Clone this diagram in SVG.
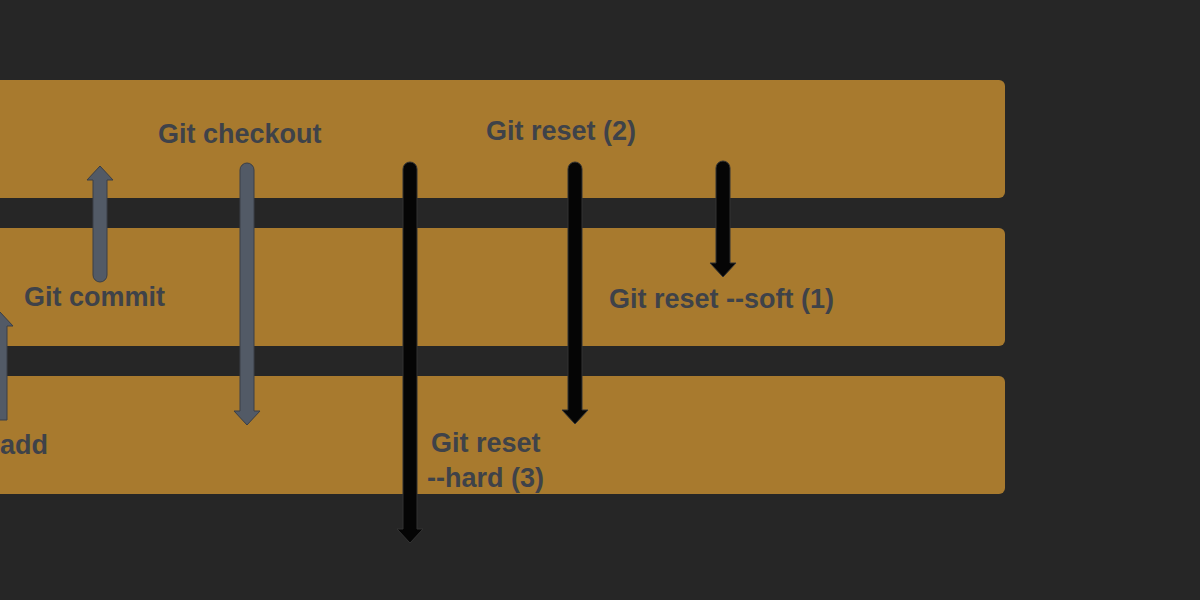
<svg xmlns="http://www.w3.org/2000/svg" width="1200" height="600" viewBox="0 0 1200 600">
<style>
.band{fill:#a87a2e}
.t{font-family:"Liberation Sans",Arial,sans-serif;font-weight:bold;font-size:27px;fill:#3e4249}
.g{fill:#525a66;stroke:#3a3f47;stroke-width:1}
.b{fill:#050505;stroke:#333;stroke-width:1}
</style>
<rect width="1200" height="600" fill="#262626"/>
<g id="repo"><rect class="band" x="-10" y="80" width="1015" height="118" rx="6"/></g>
<g id="staging"><rect class="band" x="-10" y="228" width="1015" height="118" rx="6"/></g>
<g id="working"><rect class="band" x="-10" y="376" width="1015" height="118" rx="6"/></g>
<g id="connectors">
<!-- up arrows: shaft from bottom (rounded) to head at top -->
<path class="g" d="M93,275 V180 H87 L100,166 L113,180 H107 V275 A7,7 0 0 1 93,275 Z"/>
<path class="g" d="M-7,420 V326 H-13 L0,312 L13,326 H7 V420 Z"/>
<path class="g" d="M240,170 V411 H234 L247,425 L260,411 H254 V170 A7,7 0 0 0 240,170 Z"/>
<path class="b" d="M403,169 V529 H397 L410,543 L423,529 H417 V169 A7,7 0 0 0 403,169 Z"/>
<path class="b" d="M568,169 V410 H562 L575,424 L588,410 H582 V169 A7,7 0 0 0 568,169 Z"/>
<path class="b" d="M716,168 V263 H710 L723,277 L736,263 H730 V168 A7,7 0 0 0 716,168 Z"/>
</g>
<g id="labels">
<text class="t" x="158" y="143">Git checkout</text>
<text class="t" x="486" y="140">Git reset (2)</text>
<text class="t" x="24" y="306">Git commit</text>
<text class="t" x="609" y="308">Git reset --soft (1)</text>
<text class="t" x="0" y="454">add</text>
<text class="t" x="431" y="452">Git reset</text>
<text class="t" x="427" y="487">--hard (3)</text>
</g>
</svg>
